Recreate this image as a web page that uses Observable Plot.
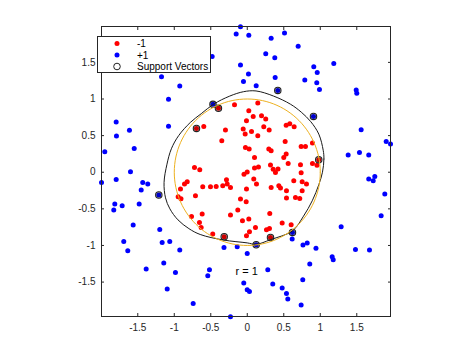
<!DOCTYPE html>
<html><head><meta charset="utf-8">
<script src="https://cdn.jsdelivr.net/npm/d3@7"></script>
<script src="https://cdn.jsdelivr.net/npm/@observablehq/plot@0.6"></script>
<style>
body{margin:0;background:#fff;}
#wrap{position:relative;width:474px;height:355px;}
#leg{position:absolute;left:97px;top:36px;}
</style></head><body><div id="wrap"></div>
<script>
// class -1 (red)
const redPoints = [
[-0.395,0.872],[-0.175,0.922],[0.021,0.840],[0.081,0.762],[-0.011,0.704],[-0.696,0.598],[-0.596,0.626],
[-0.299,0.577],[-0.056,0.590],[-0.029,0.522],[0.058,0.557],[-0.349,0.430],[-0.025,0.339],[0.026,0.317],
[-0.723,0.066],[-0.651,0.034],[0.099,0.202],[0.099,0.057],[0.144,0.945],[0.195,0.772],[0.253,0.727],
[0.226,0.622],[0.300,0.577],[0.533,0.642],[0.582,0.663],[0.642,0.622],[0.144,0.499],[0.519,0.421],
[0.893,0.399],[0.738,0.352],[0.797,0.352],[0.295,0.317],[0.327,0.294],[0.533,0.249],[0.500,0.202],
[0.729,0.102],[0.893,0.120],[0.979,0.171],[0.560,0.120],[0.318,0.098],[0.421,0.045],[0.153,0.071],
[0.955,0.096],[0.355,0.041],[0.386,-0.003],[0.738,-0.007],[0.089,-0.093],[0.126,-0.161],[0.637,-0.116],
[0.752,-0.130],[0.811,-0.161],[0.327,-0.208],[0.432,-0.184],[0.455,-0.216],[0.537,-0.253],[0.752,-0.253],
[0.537,-0.352],[0.660,-0.344],[0.719,-0.358],[0.308,-0.563],[0.112,-0.754],[0.263,-0.786],[0.304,-0.768],
[0.478,-0.694],[0.601,-0.717],[0.318,-0.891],[-0.823,-0.130],[-0.860,-0.161],[-0.915,-0.230],[-0.610,-0.198],
[-0.504,-0.198],[-0.426,-0.194],[-0.336,-0.184],[-0.285,-0.102],[-0.275,-0.161],[-0.230,-0.208],[-0.045,-0.027],
[-0.001,0.003],[-0.011,-0.230],[-0.710,-0.321],[-0.093,-0.366],[-0.015,-0.403],[-0.908,-0.362],[-0.947,-0.335],
[-0.130,-0.516],[-0.230,-0.585],[-0.618,-0.571],[-0.764,-0.604],[-0.066,-0.663],[0.021,-0.639],[-0.655,-0.686],
[-0.632,-0.754],[0.030,-0.813],[-0.011,-0.867],[-0.473,-0.844],[-0.316,-0.881]
];
// class +1 (blue)
const bluePoints = [
[-0.093,1.988],[-0.152,1.888],[0.021,1.872],[0.327,1.828],[0.510,1.902],[0.697,1.719],[0.253,1.619],
[0.377,1.564],[-0.481,1.582],[-0.093,1.464],[0.016,1.342],[-0.052,1.240],[0.122,1.182],[0.382,1.295],
[0.911,1.441],[0.958,1.363],[1.185,1.486],[0.788,1.260],[0.952,1.223],[0.989,1.131],[0.418,1.117],
[0.907,0.762],[1.492,1.123],[1.500,1.077],[1.560,0.581],[1.903,0.421],[1.962,0.385],[-0.470,0.927],
[-1.175,1.305],[-0.925,1.178],[-1.079,0.995],[-1.796,0.686],[-1.614,0.574],[-1.079,0.628],[-1.792,0.495],
[-1.549,0.325],[-1.952,0.280],[-1.600,0.007],[-1.796,-0.098],[-1.997,-0.139],[-1.432,-0.139],[-1.363,-0.161],
[-1.453,-0.243],[-1.212,-0.311],[-1.815,-0.434],[-1.829,-0.516],[-1.714,-0.458],[-1.481,-0.434],[-1.563,-0.721],
[-1.199,-0.781],[-1.692,-0.945],[-1.637,-1.072],[-1.166,-0.959],[-1.062,-0.945],[-0.925,-1.063],[-1.144,-1.240],
[-1.385,-1.322],[-0.984,-1.369],[-1.097,-1.596],[-0.518,-1.332],[-0.541,-1.414],[-0.741,-1.792],[-0.230,-1.974],
[-0.319,-1.029],[-0.138,-1.018],[-0.001,-1.109],[-0.048,-1.514],[-0.001,-1.605],[0.030,-1.628],[0.281,-1.332],
[0.349,-1.527],[0.478,-1.582],[0.537,-1.656],[0.555,-1.732],[0.760,-1.469],[0.738,-1.814],[0.856,-1.254],
[1.163,-1.154],[1.177,-1.195],[1.482,-1.055],[1.674,-1.063],[1.286,-0.745],[0.122,-0.990],[0.619,-0.822],
[0.615,-0.913],[0.763,-0.995],[0.821,-0.967],[0.941,-1.038],[1.834,-0.594],[1.884,-0.298],[1.664,-0.093],
[1.725,-0.116],[1.747,-0.057],[1.382,0.235],[1.537,0.270],[1.664,0.235]
];
const supportVectors = [
[-0.470,0.927],[0.418,1.117],[0.907,0.762],[-1.212,-0.311],[0.122,-0.990],[0.619,-0.822],
[-0.395,0.872],[-0.696,0.598],[0.979,0.171],[-0.316,-0.881],[0.318,-0.891]
];
// decision boundary contour
const boundary = [
[1.03,0.0],[1.05,0.18],[1.04,0.30],[0.98,0.52],[0.87,0.69],[0.74,0.82],[0.59,0.93],[0.36,1.04],
[0.12,1.11],[-0.05,1.10],[-0.24,1.04],[-0.46,0.93],[-0.63,0.80],[-0.78,0.68],[-0.94,0.50],[-1.04,0.32],
[-1.10,0.11],[-1.14,-0.14],[-1.12,-0.35],[-1.06,-0.50],[-0.95,-0.65],[-0.80,-0.77],[-0.645,-0.85],
[-0.33,-0.925],[0.0,-0.965],[0.12,-0.985],[0.32,-0.92],[0.62,-0.80],[0.77,-0.60],[0.89,-0.39],[0.98,-0.17]
];
const circleRadius = 1;
const circleLabel = [{x:-0.16, y:-1.355, text:"r = " + circleRadius}];
const tickValues = [-1.5,-1,-0.5,0,0.5,1,1.5];
const legendLabels = ["-1","+1","Support Vectors"];

const circle = d3.range(0, 361, 3).map(a => [circleRadius*Math.cos(a*Math.PI/180), circleRadius*Math.sin(a*Math.PI/180)]);
const fmt = d => String(d);
const axisColor = "#262626";

const chart = Plot.plot({
  width: 474, height: 355,
  marginLeft: 101, marginRight: 84, marginTop: 26, marginBottom: 39,
  x: {domain: [-1.997, 1.962]},
  y: {domain: [-1.97, 1.99]},
  style: {fontFamily: '"Liberation Sans", Arial, sans-serif', fontSize: "10px", background: "#fff", color: axisColor},
  marks: [
    Plot.dot(redPoints, {x: d => d[0], y: d => d[1], r: 2.5, fill: "#ff0000", stroke: null}),
    Plot.dot(bluePoints, {x: d => d[0], y: d => d[1], r: 2.5, fill: "#0000ff", stroke: null}),
    Plot.dot(supportVectors, {x: d => d[0], y: d => d[1], r: 3.2, fill: "#000", fillOpacity: 0.2, stroke: "#222", strokeWidth: 1.1}),
    Plot.line(boundary, {x: d => d[0], y: d => d[1], curve: "catmull-rom-closed", stroke: "#1a1a1a", strokeWidth: 1}),
    Plot.line(circle, {x: d => d[0], y: d => d[1], stroke: "#EDB120", strokeWidth: 1}),
    Plot.text(circleLabel, {x: "x", y: "y", text: "text", textAnchor: "start", fontSize: 11, fill: "#000"}),
    Plot.axisX(tickValues, {anchor: "bottom", tickSize: -3, tickPadding: 10, tickFormat: fmt, label: null, stroke: axisColor, fill: axisColor}),
    Plot.axisX(tickValues, {anchor: "top", tickSize: -3, tickFormat: () => "", label: null, stroke: axisColor}),
    Plot.axisY(tickValues, {anchor: "left", tickSize: -3, tickPadding: 9, tickFormat: fmt, label: null, stroke: axisColor, fill: axisColor}),
    Plot.axisY(tickValues, {anchor: "right", tickSize: -3, tickFormat: () => "", label: null, stroke: axisColor}),
    Plot.frame({stroke: axisColor, strokeWidth: 1})
  ]
});
const wrap = document.getElementById("wrap");
wrap.appendChild(chart);

// legend overlay
const leg = d3.select(wrap).append("svg").attr("id","leg").attr("width",115).attr("height",38)
  .style("font-family",'"Liberation Sans", Arial, sans-serif').style("font-size","10px");
leg.append("rect").attr("x",0.5).attr("y",0.5).attr("width",113).attr("height",36).attr("fill","#fff").attr("stroke",axisColor);
const rowsY = [7.5, 19, 30.5];
const legStyles = [{fill:"#ff0000", stroke:"none", r:2.5},{fill:"#0000ff", stroke:"none", r:2.5},{fill:"none", stroke:"#222", r:3.3}];
legendLabels.forEach((t,i) => {
  leg.append("circle").attr("cx",20).attr("cy",rowsY[i]).attr("r",legStyles[i].r).attr("fill",legStyles[i].fill).attr("stroke",legStyles[i].stroke);
  leg.append("text").attr("x",40).attr("y",rowsY[i]).attr("dy","0.35em").attr("fill","#000").text(t);
});
</script></body></html>
